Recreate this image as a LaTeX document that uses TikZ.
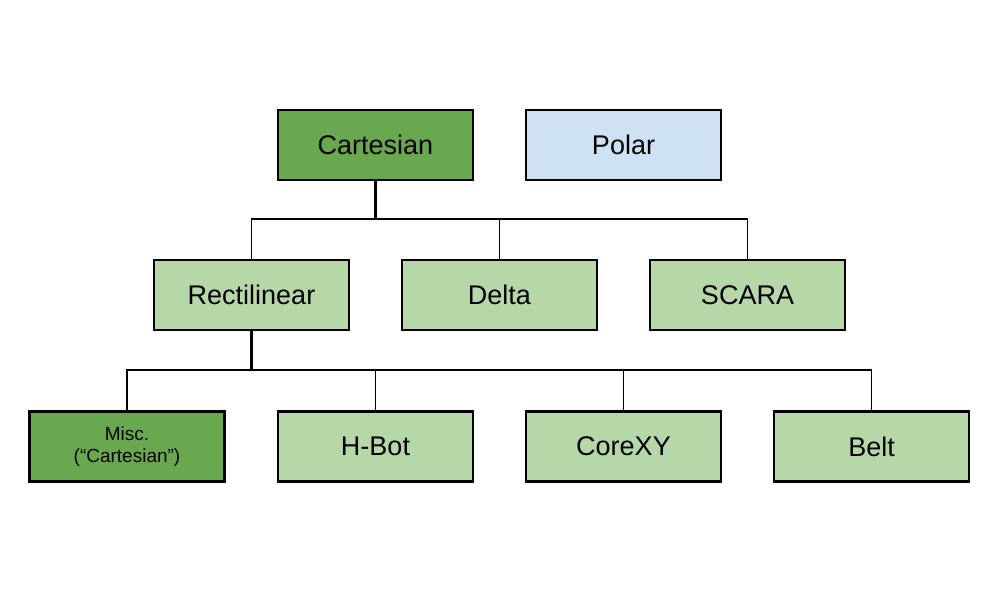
\documentclass[tikz,border=0pt]{standalone}
\usepackage{fontspec}
\setmainfont{Liberation Sans}
\begin{document}
\begin{tikzpicture}[x=1pt,y=-1pt,
  box/.style={draw=black,line width=2.5pt,minimum width=195pt,minimum height=70pt,inner sep=0pt,font=\fontsize{27}{30}\selectfont},
  dark/.style={box,fill={rgb,255:red,106;green,168;blue,79}},
  light/.style={box,fill={rgb,255:red,182;green,215;blue,168}},
  blue/.style={box,fill={rgb,255:red,207;green,226;blue,243}},
  thin/.style={line width=1.5pt},
  thick/.style={line width=2.5pt}]
\useasboundingbox (0,0) rectangle (1000,591);
\node[dark] (cart) at (375.5,145) {Cartesian};
\node[blue] (polar) at (623.5,145) {Polar};
\node[light] (rect) at (251.5,295) {Rectilinear};
\node[light] (delta) at (499.5,295) {Delta};
\node[light] (scara) at (747.5,295) {SCARA};
\node[dark,align=center,font=\fontsize{19}{22}\selectfont] (misc) at (127,446.5) {Misc.\\(“Cartesian”)};
\node[light] (hbot) at (375.5,446.5) {H-Bot};
\node[light] (corexy) at (623.5,446.5) {CoreXY};
\node[light] (belt) at (871.5,446.5) {Belt};
\coordinate (j1) at (375.5,219);
\coordinate (j2) at (251.5,370);
\draw[thick] (cart.south) -- (j1);
\draw[thin] (j1) -| (rect.north);
\draw[thin] (j1) -| (delta.north);
\draw[thin] (j1) -| (scara.north);
\draw[thick] (rect.south) -- (j2);
\draw[thin] (j2) -| (misc.north);
\draw[thin] (j2) -| (hbot.north);
\draw[thin] (j2) -| (corexy.north);
\draw[thin] (j2) -| (belt.north);
\end{tikzpicture}
\end{document}
